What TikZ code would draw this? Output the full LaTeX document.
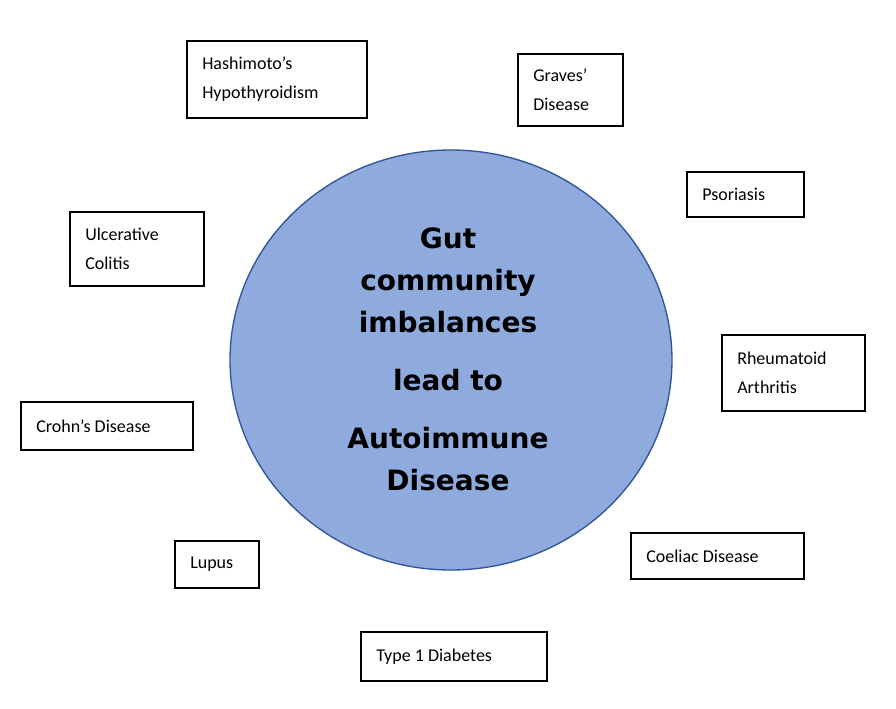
\documentclass[tikz,border=0pt]{standalone}
\usepackage{fontspec}
\usetikzlibrary{shapes.geometric}
\setmainfont{Carlito}
\newfontfamily\ctr{DejaVu Sans}
\definecolor{efill}{HTML}{8FAADC}
\definecolor{edraw}{HTML}{2F5597}
\begin{document}
\begin{tikzpicture}[x=0.75pt,y=-0.75pt,
  box/.style={draw=black,line width=1pt,rectangle},
  lbl/.style={anchor=west,align=left,font=\fontsize{13.5}{21.75}\selectfont,inner sep=0pt},
  ct/.style={font=\ctr\bfseries\fontsize{21}{31.5}\selectfont,align=center,inner sep=0pt}]
\useasboundingbox (0,0) rectangle (896,709);
\fill[white] (0,0) rectangle (896,709);
\node[draw=edraw,fill=efill,line width=1pt,ellipse,minimum width=442*0.75pt,minimum height=420*0.75pt,inner sep=0pt] (c) at (451,360) {};
\node[ct] (t1) at (448,280) {Gut\\community\\imbalances};
\node[ct] (t2) at (448,380) {lead to};
\node[ct] (t3) at (448,459) {Autoimmune\\Disease};
\foreach \n/\l/\t/\r/\b/\txt in {
 h/187/41/367/118/{Hashimoto’s\\Hypothyroidism},
 g/518/54/623/126/{Graves’\\Disease},
 p/687/172/804/217/{Psoriasis},
 u/70/212/204/286/{Ulcerative\\Colitis},
 r/722/335/865/411/{Rheumatoid\\Arthritis},
 cr/21/402/193/450/{Crohn’s Disease},
 l/175/541/259/588/{Lupus},
 co/631/533/804/579/{Coeliac Disease},
 ty/361/632/547/681/{Type 1 Diabetes}}{
 \draw[box] (\l,\t) rectangle (\r,\b);
 \node[lbl] (\n) at ({\l+15},{(\t+\b)/2}) {\txt};
}
\end{tikzpicture}
\end{document}
